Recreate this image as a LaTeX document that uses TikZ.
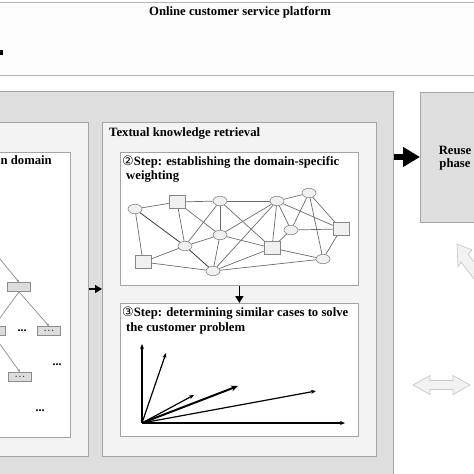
\documentclass[tikz,border=0pt]{standalone}
\usepackage{fontspec}
\setmainfont{Liberation Serif}
\newfontfamily\symfont{DejaVu Sans}
\usetikzlibrary{arrows.meta,shapes.geometric}
\definecolor{platfill}{HTML}{FDFDFD}
\definecolor{platline}{HTML}{B4B4B4}
\definecolor{graybox}{HTML}{DEDEDE}
\definecolor{lightp}{HTML}{F3F3F3}
\definecolor{boxline}{HTML}{A4A4A4}
\definecolor{gnode}{HTML}{868686}
\definecolor{gfill}{HTML}{F0F0F0}
\definecolor{gedge}{HTML}{6C6C6C}
\definecolor{gdark}{HTML}{3C3C3C}
\definecolor{tfill}{HTML}{DCDCDC}
\definecolor{tline}{HTML}{8C8C8C}
\definecolor{faintfill}{HTML}{F2F2F2}
\definecolor{faintline}{HTML}{C8C8C8}
\begin{document}
\begin{tikzpicture}[x=1pt,y=-1pt,
  panel/.style={rectangle, draw=boxline, line width=0.8pt, anchor=north west, inner sep=0pt},
  lbl/.style={inner sep=0pt, font=\fontsize{12.7}{14}\selectfont\bfseries},
  gel/.style={ellipse, draw=gnode, fill=gfill, line width=0.6pt, minimum width=14pt, minimum height=9.5pt, inner sep=0pt},
  gsq/.style={rectangle, draw=gnode, fill=gfill, line width=0.6pt, minimum width=16pt, minimum height=13pt, inner sep=0pt},
  gline/.style={draw=gedge, line width=0.7pt},
  gdline/.style={draw=gdark, line width=0.8pt},
  tbox/.style={rectangle, draw=tline, fill=tfill, line width=0.7pt, minimum width=23pt, minimum height=9pt, inner sep=0pt, font=\fontsize{5}{5}\selectfont},
  tline/.style={draw=tline, line width=0.7pt, -{Stealth[length=3pt,width=2.5pt]}},
  tdots/.style={inner sep=0pt, font=\fontsize{12}{12}\selectfont\bfseries},
  smallarrow/.style={line width=1.6pt, -{Triangle[length=7pt,width=8pt]}},
  vec/.style={line width=1.2pt, -{Stealth[length=5pt,width=4pt]}},
  faint/.style={draw=faintline, fill=faintfill, line width=0.7pt, line join=miter}
]
\useasboundingbox (0,0) rectangle (474,474);
\clip (0,0) rectangle (474,474);
\fill[white] (0,0) rectangle (474,474);

% platform band
\node[panel, fill=platfill, draw=platline, minimum width=490pt, minimum height=73pt] (plat) at (-8,2) {};
\node[lbl, anchor=base] (title) at (240,15.5) {Online customer service platform};
\fill (-1,50) rectangle (3,55);

% main boxes
\node[panel, fill=graybox, minimum width=401pt, minimum height=390pt] (big) at (-8,91) {};
\node[panel, fill=lightp, minimum width=96pt, minimum height=334pt] (leftp) at (-8,122) {};
\node[panel, fill=white, minimum width=78pt, minimum height=285pt] (leftw) at (-8,152) {};
\node[panel, fill=lightp, minimum width=274pt, minimum height=334pt] (midp) at (102,122) {};
\node[panel, fill=white, minimum width=238pt, minimum height=133pt] (s2) at (120,152) {};
\node[panel, fill=white, minimum width=238pt, minimum height=133pt] (s3) at (120,303) {};
\node[panel, fill=graybox, minimum width=60pt, minimum height=130pt] (reuse) at (420,92) {};

% labels
\node[lbl, anchor=base east] (dom) at (52,164) {n domain};
\node[lbl, anchor=base west] (tkr) at (109,136) {Textual knowledge retrieval};
\node[lbl, anchor=base west] (s2a) at (122,165) {{\symfont\mdseries\fontsize{13}{13}\selectfont ②}Step: establishing the domain-specific};
\node[lbl, anchor=base west] (s2b) at (126,179) {weighting};
\node[lbl, anchor=base west] (s3a) at (122,316) {{\symfont\mdseries\fontsize{13}{13}\selectfont ③}Step: determining similar cases to solve};
\node[lbl, anchor=base west] (s3b) at (126,331) {the customer problem};
\node[lbl, anchor=base] (ru1) at (455,154) {Reuse};
\node[lbl, anchor=base] (ru2) at (455,167) {phase};

% connectors between boxes
\coordinate (row1) at (0,157);
\coordinate (row2) at (0,289);
\draw[line width=6pt, -{Triangle[length=17pt,width=19pt]}] (big.east |- row1) -- (reuse.west |- row1);
\draw[smallarrow] (leftp.east |- row2) -- (midp.west |- row2);
\draw[smallarrow] (s2.south) -- (s3.north);

% graph in step 2
\node[gel] (E1) at (135,209) {};
\node[gsq] (S1) at (177,202) {};
\node[gel] (E2) at (220,201) {};
\node[gel] (E3) at (277,201) {};
\node[gel] (E4) at (309,193) {};
\node[gsq] (S2) at (341,229) {};
\node[gel] (E5) at (291,230) {};
\node[gel] (E6) at (220,235) {};
\node[gsq] (S3) at (272,248) {};
\node[gel] (E7) at (185,246) {};
\node[gsq] (S4) at (143,262) {};
\node[gel] (E8) at (213,271) {};
\node[gel] (E9) at (323,259) {};
\foreach \a/\b in {E1/S1,E1/S4,S1/E2,S1/E7,S1/E6,E2/E3,E2/E7,E2/E6,E2/S3,E7/E6,S4/E7,S4/E8,
  E6/E3,E6/S3,E6/E8,E8/E3,E8/S3,E8/E9,E3/E4,E3/E5,E3/S3,E3/S2,E4/E5,E4/E9,E4/S2,E5/S2,E5/S3,S3/E9,S2/E9}
  \draw[gline] (\a) -- (\b);
\draw[gdline] (E1) -- (E7);
\draw[gdline] (E7) -- (E8);

% tree in left panel
\coordinate (tpar) at (-9,248);
\node[tbox] (tb1) at (19,287) {};
\node[tbox] (tb0) at (-6,331) {};
\node[tbox] (tb2) at (49,331) {\textbullet\hspace{2pt}\textbullet\hspace{2pt}\textbullet};
\node[tbox] (tb3) at (20,377) {\textbullet\hspace{2pt}\textbullet\hspace{2pt}\textbullet};
\draw[tline] (tpar) -- (tb1.north);
\draw[tline] (tb1.south) -- (tb0.north);
\draw[tline] (tb1.south) -- (tb2.north);
\draw[tline] (tb0.south) -- (tb3.north);
\node[tdots] (dd1) at (22,331) {...};
\node[tdots] (dd2) at (57,365) {...};
\node[tdots] (dd3) at (40,411) {...};

% vectors in step 3
\coordinate (o) at (142,423);
\coordinate (vy) at (142,344);
\coordinate (vx) at (345,423);
\coordinate (v1) at (166,353);
\coordinate (v2) at (194,395);
\coordinate (v3) at (238,386);
\coordinate (v4) at (316,391);
\draw[vec] (o) -- (vy);
\draw[vec] (o) -- (vx);
\draw[vec] (o) -- (v1);
\draw[vec] (o) -- (v2);
\draw[line width=2pt, -{Stealth[length=7pt,width=6pt]}] (o) -- (v3);
\draw[vec] (o) -- (v4);

% faint arrows at the right
\draw[faint] (413,385) -- (430,375.5) -- (430,380.5) -- (453,380.5) -- (453,375.5) -- (470,385)
  -- (453,394.5) -- (453,389.5) -- (430,389.5) -- (430,394.5) -- cycle;
\draw[faint] (457,244) -- (472,250) -- (468,254) -- (492,285) -- (484,292) -- (461,262) -- (458,267) -- cycle;
\end{tikzpicture}
\end{document}
